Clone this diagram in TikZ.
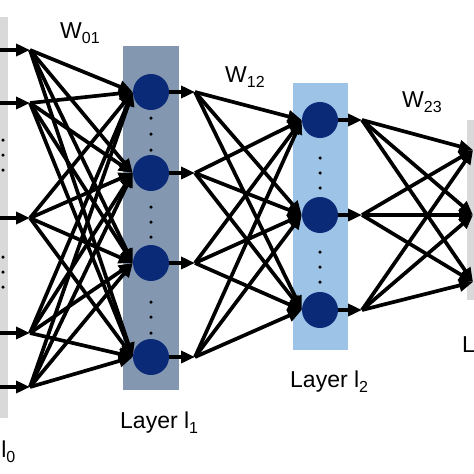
\documentclass[tikz,border=0pt]{standalone}
\usepackage{fontspec}
\setmainfont{Liberation Sans}
\usetikzlibrary{arrows.meta}
\definecolor{lonecol}{HTML}{8497B0}
\definecolor{ltwocol}{HTML}{9DC3E6}
\definecolor{nodecol}{HTML}{0A2A78}
\definecolor{barcol}{HTML}{D9D9D9}
\newcommand{\lsub}[1]{\raisebox{-5pt}{\fontsize{16}{16}\selectfont #1}}
\begin{document}
\begin{tikzpicture}[x=1pt,y=-1pt,
  neuron/.style={circle,fill=nodecol,minimum size=36pt,inner sep=0pt},
  conn/.style={line width=3.7pt,-{Triangle[length=14pt,width=12pt]}},
  lbl/.style={font=\fontsize{23}{23}\selectfont,inner sep=0pt},
  dotmark/.style={circle,fill=black,minimum size=3.5pt,inner sep=0pt},
  panel/.style={inner sep=0pt,draw=none}]
\useasboundingbox (0,0) rectangle (474,474);
% layer panels
\node[panel,fill=barcol,minimum width=8pt,minimum height=401pt] (bar0) at (4,217.5) {};
\node[panel,fill=barcol,minimum width=7pt,minimum height=180pt] (bar3) at (470.5,210) {};
\node[panel,fill=lonecol,minimum width=56pt,minimum height=344pt] (box1) at (151,218) {};
\node[panel,fill=ltwocol,minimum width=55pt,minimum height=267pt] (box2) at (320.5,216.5) {};
% dots
\foreach \y [count=\k] in {140,155,170,257,272,287}
  \node[dotmark] (d0\k) at (3,\y) {};
\foreach \y [count=\k] in {118,134,150,207,222,237,302,317,333}
  \node[dotmark] (d1\k) at (151,\y) {};
\foreach \y [count=\k] in {158,173,188,252,267,282}
  \node[dotmark] (d2\k) at (320,\y) {};
% neurons
\node[neuron] (h1) at (151,92) {};
\node[neuron] (h2) at (151,173) {};
\node[neuron] (h3) at (151,263) {};
\node[neuron] (h4) at (151,357) {};
\node[neuron] (g1) at (320,120) {};
\node[neuron] (g2) at (320,215) {};
\node[neuron] (g3) at (320,310) {};
% coordinates
\foreach \y [count=\k] in {50,103,218,333,387} {
  \coordinate (s\k) at (0,\y);
  \coordinate (i\k) at (30,\y);
}
\foreach \j in {1,...,4} \coordinate (f\j) at (195,0 |- h\j);
\foreach \j in {1,...,3} \coordinate (e\j) at (362,0 |- g\j);
\coordinate (o1) at (473,150);
\coordinate (o2) at (473,215);
\coordinate (o3) at (473,282);
% connections
\foreach \k in {1,...,5} {
  \draw[conn] (s\k) -- (i\k);
  \foreach \j in {1,...,4} \draw[conn] (i\k) -- (h\j.west);
}
\foreach \j in {1,...,4} {
  \draw[conn] (h\j.east) -- (f\j);
  \foreach \m in {1,...,3} \draw[conn] (f\j) -- (g\m.west);
}
\foreach \m in {1,...,3} {
  \draw[conn] (g\m.east) -- (e\m);
  \foreach \n in {1,...,3} \draw[conn] (e\m) -- (o\n);
}
% labels
\node[lbl,anchor=base west] (w01) at (60,38) {W\lsub{01}};
\node[lbl,anchor=base west] (w12) at (225,82) {W\lsub{12}};
\node[lbl,anchor=base west] (w23) at (402,107) {W\lsub{23}};
\node[lbl,anchor=base east] (lab0) at (15.5,457) {Layer l\lsub{0}};
\node[lbl,anchor=base west] (lab1) at (120,428) {Layer l\lsub{1}};
\node[lbl,anchor=base west] (lab2) at (290,387) {Layer l\lsub{2}};
\node[lbl,anchor=base west] (lab3) at (462,352) {Layer l\lsub{3}};
\end{tikzpicture}
\end{document}
